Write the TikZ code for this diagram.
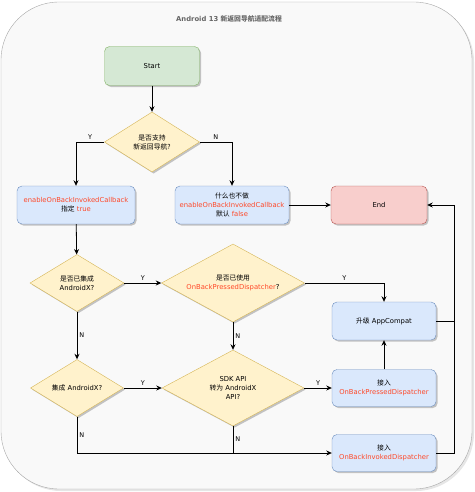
\documentclass[tikz,border=0pt]{standalone}
\usepackage{fontspec}
\usepackage{tikz}
\usepackage{xcolor}
\usetikzlibrary{shapes.geometric, arrows.meta, positioning, calc, shadows}
\setmainfont{DejaVu Sans}
\newfontfamily\cjkfont{Noto Sans CJK SC}
\newcommand{\zh}[1]{{\cjkfont #1}}
\newcommand{\redtxt}[1]{\textcolor{cCode}{#1}}
\definecolor{cFrame}{RGB}{249,249,249}
\definecolor{cGreenF}{HTML}{D5E8D4}
\definecolor{cGreenD}{HTML}{82B366}
\definecolor{cYellowF}{HTML}{FFF2CC}
\definecolor{cYellowD}{HTML}{D6B656}
\definecolor{cBlueF}{HTML}{DAE8FC}
\definecolor{cBlueD}{HTML}{6C8EBF}
\definecolor{cRedF}{HTML}{F8CECC}
\definecolor{cRedD}{HTML}{B85450}
\definecolor{cCode}{RGB}{255,72,40}
\tikzset{
	boxshadow/.style={drop shadow={shadow xshift=1.6pt, shadow yshift=-1.6pt, opacity=0.22, fill=black}},
	startstop/.style={rectangle, rounded corners=5pt, draw=cGreenD, fill=cGreenF, boxshadow, minimum width=95pt, minimum height=39pt, align=center},
	endstop/.style  ={rectangle, rounded corners=5pt, draw=cRedD, fill=cRedF, boxshadow, minimum width=96pt, minimum height=38pt, align=center},
	process/.style  ={rectangle, rounded corners=5pt, draw=cBlueD, fill=cBlueF, boxshadow, minimum width=104pt, minimum height=37pt, align=center, inner sep=1pt},
	decision/.style ={diamond, draw=cYellowD, fill=cYellowF, boxshadow, align=center, inner sep=0pt},
	flowarrow/.style={-{Stealth[length=5.5pt, width=5pt]}, line width=0.8pt},
	flowline/.style ={line width=0.8pt},
	yn/.style       ={font=\fontsize{6.5}{7}\selectfont, inner sep=2pt},
}

\begin{document}
\begin{tikzpicture}[x=1pt, y=-1pt, font=\fontsize{6.8}{9}\selectfont]
	\useasboundingbox (0,0) rectangle (474,492);
	% frame and title
	\draw[draw=black!35, fill=cFrame, rounded corners=58pt, drop shadow={shadow xshift=2pt, shadow yshift=-2pt, opacity=0.2}] (1,2) rectangle (472,489);
	\node[text=black!60, font=\fontsize{6.8}{8}\selectfont\bfseries] (title) at (229,19) {Android 13 \zh{新返回导航适配流程}};

	% upper part
	\node[startstop] (start) at (152,66) {Start};
	\node[decision, minimum width=95pt, minimum height=60pt, shape aspect=1.58] (q1) at (152,142) {\zh{是否支持}\\\zh{新返回导航?}};
	\node[process, minimum width=118pt, minimum height=38pt] (boxTrue) at (76,205) {\redtxt{enableOnBackInvokedCallback}\\\zh{指定} \redtxt{true}};
	\node[process, minimum width=114pt, minimum height=38pt] (boxNone) at (232,205) {\zh{什么也不做}\\\redtxt{enableOnBackInvokedCallback}\\\zh{默认} \redtxt{false}};
	\node[endstop] (endn) at (379,205) {End};

	% lower part
	\node[decision, minimum width=94pt, minimum height=57pt, shape aspect=1.65] (q2) at (77,283) {\zh{是否已集成}\\AndroidX?};
	\node[decision, minimum width=143pt, minimum height=78pt, shape aspect=1.83] (q3) at (233,283) {\zh{是否已使用}\\\redtxt{OnBackPressedDispatcher}?};
	\node[process, minimum height=38pt] (appc) at (384,321) {\zh{升级} AppCompat};
	\node[decision, minimum width=93pt, minimum height=57pt, shape aspect=1.63] (q5) at (77,388) {\zh{集成} AndroidX?};
	\node[decision, minimum width=142pt, minimum height=76pt, shape aspect=1.87] (q4) at (233,388) {SDK API\\\zh{转为} AndroidX\\API?};
	\node[process] (pressed) at (384,388) {\zh{接入}\\\redtxt{OnBackPressedDispatcher}};
	\node[process] (invoked) at (384,453) {\zh{接入}\\\redtxt{OnBackInvokedDispatcher}};

	\coordinate (railB) at (454,453);
	\coordinate (railT) at (454,205);

	% connectors
	\draw[flowarrow] (start) -- (q1);
	\draw[flowarrow] (q1.west) -| node[yn, pos=0.25, above] {Y} (boxTrue);
	\draw[flowarrow] (q1.east) -| node[yn, pos=0.25, above] {N} (boxNone);
	\draw[flowarrow] (boxNone) -- (endn);
	\draw[flowarrow] (boxTrue) -- (q2);
	\draw[flowarrow] (q2) -- node[yn, above] {Y} (q3);
	\draw[flowarrow] (q2) -- node[yn, right] {N} (q5);
	\draw[flowarrow] (q3.east) -| node[yn, pos=0.25, above] {Y} (appc);
	\draw[flowarrow] (q3) -- node[yn, right] {N} (q4);
	\draw[flowarrow] (q5) -- node[yn, above] {Y} (q4);
	\draw[flowarrow] (q4) -- node[yn, above] {Y} (pressed);
	\draw[flowarrow] (pressed) -- (appc);
	\draw[flowarrow] (q5.south) |- node[yn, pos=0.25, right] {N} (invoked.west);
	\draw[flowline] (q4.south) -- node[yn, right] {N} (q4.south |- invoked.west);
	\draw[flowline] (appc.east) -- (appc.east -| railT);
	\draw[flowarrow] (invoked.east) -- (railB) -- (railT) -- (endn.east);
\end{tikzpicture}
\end{document}
